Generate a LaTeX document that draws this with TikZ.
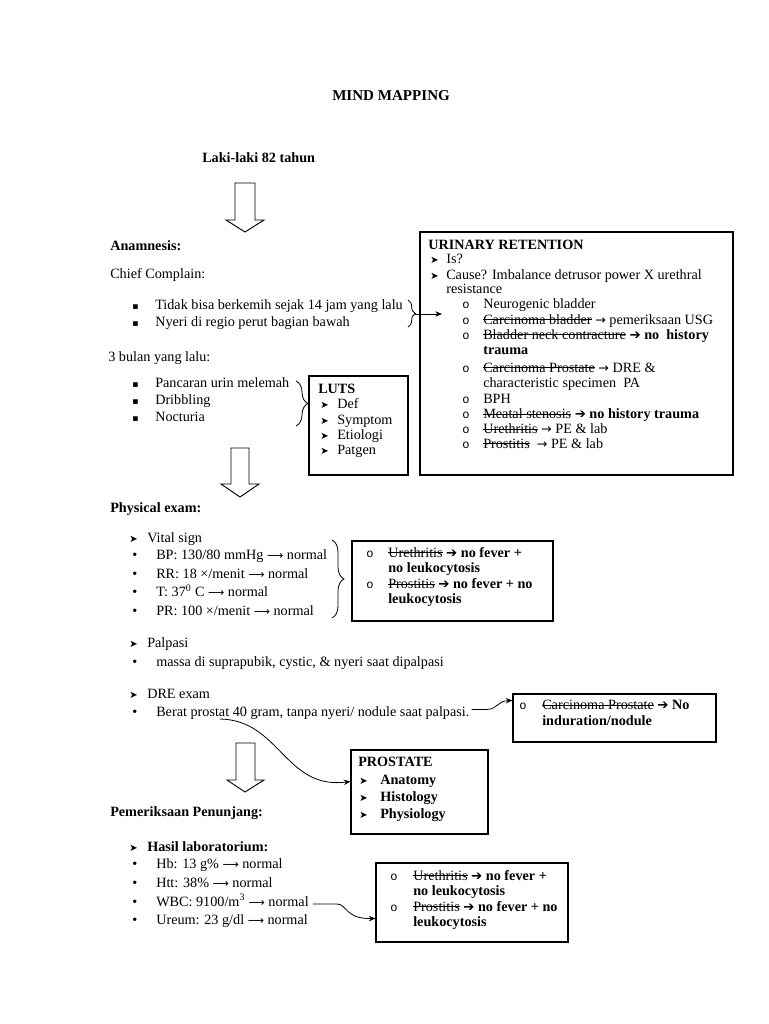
\documentclass[tikz,border=0pt]{standalone}
\usepackage{fontspec}
\setmainfont{Liberation Serif}
\newfontfamily\dejavu{DejaVu Sans}
\newfontfamily\monofam{Liberation Mono}
\usetikzlibrary{decorations.pathreplacing,fit,arrows.meta,calc}
\newsavebox\strkbox
\newcommand\strk[1]{\sbox\strkbox{#1}\rlap{\rule[0.27em]{\wd\strkbox}{0.06em}}\usebox\strkbox}
\newcommand\ab{{\dejavu\fontsize{7.5}{8}\selectfont ➤}}
\newcommand\sqb{{\dejavu\fontsize{7}{8}\selectfont ▪}}
\newcommand\cb{{\monofam\fontsize{9}{9}\selectfont o}}
\newcommand\ba{{\dejavu\fontsize{10}{9}\selectfont ➔}}
\newcommand\ta{{\dejavu\fontsize{9.5}{9}\selectfont →}}
\newcommand\la{{\dejavu\fontsize{8.5}{9}\selectfont ⟶}}
\tikzset{
  txt/.style={anchor=base west, inner sep=0pt, font=\fontsize{10.65}{12}\selectfont},
  btxt/.style={txt, font=\fontsize{10.65}{12}\selectfont\bfseries},
  boxx/.style={draw, line width=0.8pt, inner sep=0pt},
  blockarr/.style={draw, line width=0.7pt, fill=white},
  brc/.style={decorate, line width=0.6pt},
  arr/.style={line width=0.6pt, -{Stealth[length=5pt,width=4pt]}},
}
\begin{document}
\begin{tikzpicture}[x=0.75pt,y=-0.75pt]
\fill[white] (0,0) rectangle (768,1024);
\useasboundingbox (0,0) rectangle (768,1024);

% title
\node[btxt, font=\fontsize{11.3}{12}\selectfont\bfseries] (title) at (332,100) {MIND MAPPING};
\node[btxt] (laki) at (202,162) {Laki-laki 82 tahun};

% block arrows
\draw[blockarr] (235,183) -- (255,183) -- (255,220) -- (264,220) -- (245,232) -- (226,220) -- (235,220) -- cycle;
\draw[blockarr] (231,448) -- (249,448) -- (249,484) -- (259,484) -- (240,497) -- (221,484) -- (231,484) -- cycle;
\draw[blockarr] (236,743) -- (255,743) -- (255,780) -- (264,780) -- (245,792) -- (227,780) -- (236,780) -- cycle;

% anamnesis
\node[btxt] (anam) at (110,250) {Anamnesis:};
\node[txt] (chief) at (110,278) {Chief Complain:};
\node[txt] (cc1b) at (132,309.5) {\sqb};
\node[txt] (cc1) at (155,309.5) {Tidak bisa berkemih sejak 14 jam yang lalu};
\node[txt] (cc2b) at (132,326.5) {\sqb};
\node[txt] (cc2) at (155,326.5) {Nyeri di regio perut bagian bawah};
\node[txt] (blan) at (108,361) {3 bulan yang lalu:};
\node[txt] (p1b) at (132,387) {\sqb};
\node[txt] (p1) at (155,387) {Pancaran urin melemah};
\node[txt] (p2b) at (132,404) {\sqb};
\node[txt] (p2) at (155,404) {Dribbling};
\node[txt] (p3b) at (132,421.5) {\sqb};
\node[txt] (p3) at (155,421.5) {Nocturia};

% braces
\draw[brc, decoration={brace, amplitude=5.5pt}] (408,300) -- (408,327);
\coordinate (b1t) at (415,314);
\coordinate (b1e) at (442,314);
\draw[arr] (b1t) -- (b1e);
\draw[brc, decoration={brace, amplitude=9pt}] (296,381) -- (296,426);

% LUTS box
\node[boxx, fit={(309,376) (408,475)}] (lutsbox) {};
\node[btxt] (luts) at (318,393.5) {LUTS};
\node[txt] (l1b) at (320,408.5) {\ab};
\node[txt] (l1) at (337,408.5) {Def};
\node[txt] (l2b) at (320,424) {\ab};
\node[txt] (l2) at (337,424) {Symptom};
\node[txt] (l3b) at (320,439) {\ab};
\node[txt] (l3) at (337,439) {Etiologi};
\node[txt] (l4b) at (320,454) {\ab};
\node[txt] (l4) at (337,454) {Patgen};

% urinary retention box
\node[boxx, fit={(420,232) (733,475)}] (urbox) {};
\node[btxt] (ur0) at (428,249) {URINARY RETENTION};
\node[txt] (ur1b) at (430,263) {\ab};
\node[txt] (ur1) at (446,263) {Is?};
\node[txt] (ur2b) at (430,279) {\ab};
\node[txt] (ur2) at (446,279) {Cause? Imbalance detrusor power X urethral};
\node[txt] (ur3) at (446,293) {resistance};
\node[txt] (ur4b) at (462,308) {\cb};
\node[txt] (ur4) at (483,308) {Neurogenic bladder};
\node[txt] (ur5b) at (462,324) {\cb};
\node[txt] (ur5) at (483,324) {\strk{Carcinoma bladder} \ta\ pemeriksaan USG};
\node[txt] (ur6b) at (462,339) {\cb};
\node[txt] (ur6) at (483,339) {\strk{Bladder neck contracture} \ba\ \textbf{no\ \ history}};
\node[txt] (ur7) at (483,354.5) {\textbf{trauma}};
\node[txt] (ur8b) at (462,372) {\cb};
\node[txt] (ur8) at (483,372) {\strk{Carcinoma Prostate} \ta\ DRE \&};
\node[txt] (ur9) at (483,387) {characteristic specimen\ \ PA};
\node[txt] (ur10b) at (462,403) {\cb};
\node[txt] (ur10) at (483,403) {BPH};
\node[txt] (ur11b) at (462,418.5) {\cb};
\node[txt] (ur11) at (483,418.5) {\strk{Meatal stenosis} \ba\ \textbf{no history trauma}};
\node[txt] (ur12b) at (462,433.5) {\cb};
\node[txt] (ur12) at (483,433.5) {\strk{Urethritis} \ta\ PE \& lab};
\node[txt] (ur13b) at (462,448) {\cb};
\node[txt] (ur13) at (483,448) {\strk{Prostitis}\ \ \ta\ PE \& lab};

% physical exam
\node[btxt] (pe) at (110,512) {Physical exam:};
\node[txt] (vsb) at (129,542) {\ab};
\node[txt] (vs) at (147,542) {Vital sign};
\node[txt] (bpb) at (132,559.5) {•};
\node[txt] (bp) at (156,559.5) {BP: 130/80 mmHg \la\ normal};
\node[txt] (rrb) at (132,578) {•};
\node[txt] (rr) at (156,578) {RR: 18 ×/menit \la\ normal};
\node[txt] (tb) at (132,596.5) {•};
\node[txt] (tt) at (156,596.5) {T: 37\textsuperscript{0} C \la\ normal};
\node[txt] (prb) at (132,615) {•};
\node[txt] (pr) at (156,615) {PR: 100 ×/menit \la\ normal};
\draw[brc, decoration={brace, amplitude=9pt}] (332,540) -- (332,618);

\node[boxx, fit={(352,541) (553,621)}] (pebox) {};
\node[txt] (pe1b) at (366,557) {\cb};
\node[txt] (pe1) at (388,557) {\strk{Urethritis} \ba\ \textbf{no fever +}};
\node[txt] (pe2) at (388,572.5) {\textbf{no leukocytosis}};
\node[txt] (pe3b) at (366,588.5) {\cb};
\node[txt] (pe3) at (388,588.5) {\strk{Prostitis} \ba\ \textbf{no fever + no}};
\node[txt] (pe4) at (388,603) {\textbf{leukocytosis}};

% palpasi, DRE
\node[txt] (palb) at (129,647) {\ab};
\node[txt] (pal) at (147,647) {Palpasi};
\node[txt] (masb) at (132,666) {•};
\node[txt] (mas) at (156,666) {massa di suprapubik, cystic, \& nyeri saat dipalpasi};
\node[txt] (dreb) at (129,698) {\ab};
\node[txt] (drex) at (147,698) {DRE exam};
\node[txt] (berb) at (132,716.5) {•};
\node[txt] (ber) at (156,716.5) {Berat prostat 40 gram, tanpa nyeri/ nodule saat palpasi.};

\node[boxx, fit={(513,694) (716,742)}] (drebox) {};
\node[txt] (dr1b) at (519,709.5) {\cb};
\node[txt] (dr1) at (542,709.5) {\strk{Carcinoma Prostate} \ba\ \textbf{No}};
\node[txt] (dr2) at (542,725.5) {\textbf{induration/nodule}};

\coordinate (berE) at ($(ber.base east)+(2,-7)$);
\draw[arr] (berE) -- ++(15,0) .. controls (498,709) and (497,701) .. ($(drebox.north west)+(0,7)$);

% prostate
\node[boxx, fit={(351,750) (488,834)}] (prbox) {};
\node[btxt] (pr0) at (358,766) {PROSTATE};
\node[txt] (pr1b) at (359,784) {\ab};
\node[txt] (pr1) at (380,784) {\textbf{Anatomy}};
\node[txt] (pr2b) at (359,801) {\ab};
\node[txt] (pr2) at (380,801) {\textbf{Histology}};
\node[txt] (pr3b) at (359,818) {\ab};
\node[txt] (pr3) at (380,818) {\textbf{Physiology}};
\coordinate (c1) at (220,719);
\draw[arr] (c1) .. controls (280,720) and (285,790) .. ($(prbox.north west)+(0,32)$);

% penunjang
\node[btxt] (pp) at (110,816) {Pemeriksaan Penunjang:};
\node[txt] (hlb) at (129,851) {\ab};
\node[btxt] (hl) at (147,851) {Hasil laboratorium:};
\node[txt] (hbb) at (132,868.5) {•};
\node[txt] (hb) at (156,868.5) {Hb: 13 g\% \la\ normal};
\node[txt] (httb) at (132,887.5) {•};
\node[txt] (htt) at (156,887.5) {Htt: 38\% \la\ normal};
\node[txt] (wbcb) at (132,906) {•};
\node[txt] (wbc) at (156,906) {WBC: 9100/m\textsuperscript{3} \la\ normal};
\node[txt] (urmb) at (132,924.5) {•};
\node[txt] (urm) at (156,924.5) {Ureum: 23 g/dl \la\ normal};

\node[boxx, fit={(376,863) (568,942)}] (labbox) {};
\node[txt] (lb1b) at (390,880) {\cb};
\node[txt] (lb1) at (413,880) {\strk{Urethritis} \ba\ \textbf{no fever +}};
\node[txt] (lb2) at (413,895) {\textbf{no leukocytosis}};
\node[txt] (lb3b) at (390,911) {\cb};
\node[txt] (lb3) at (413,911) {\strk{Prostitis} \ba\ \textbf{no fever + no}};
\node[txt] (lb4) at (413,926) {\textbf{leukocytosis}};

\coordinate (wbcE) at ($(wbc.base east)+(4,-2)$);
\draw[arr] (wbcE) -- ++(24,0) .. controls (347,904) and (345,919) .. ($(labbox.north west)+(0,56)$);
\end{tikzpicture}
\end{document}
